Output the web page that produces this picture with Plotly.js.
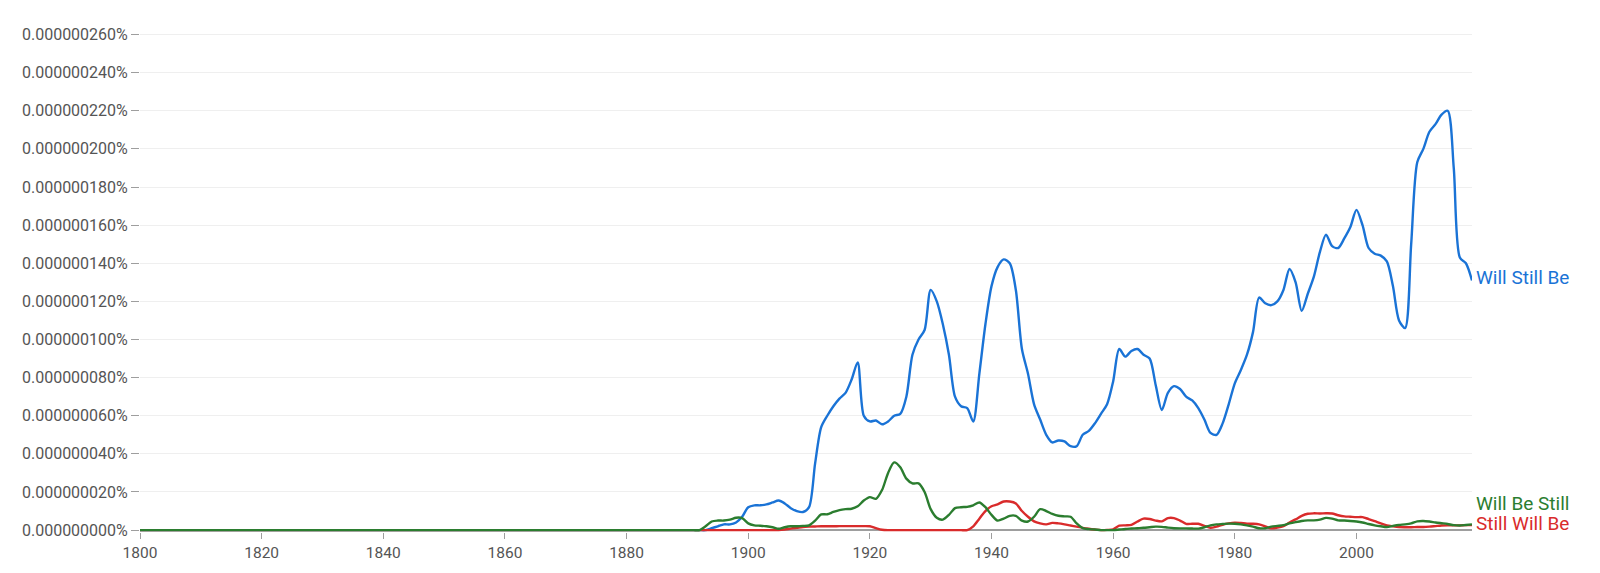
<!DOCTYPE html>
<html>
<head>
<meta charset="utf-8">
<script src="https://cdn.plot.ly/plotly-3.0.1.min.js"></script>
<style>html,body{margin:0;padding:0;background:#fff;}#chart{width:1600px;height:573px;}</style>
</head>
<body>
<div id="chart"></div>
<script>
// Values are in units of 0.000000001 %
const startYear = 1800;
const endYear = 2019;

const willStillBeLate = { // 1893..2019
  start: 1893,
  values: [0,1,2,3,3,4,7,12,13,13,13.5,14.5,15.5,14,11.5,10,9.5,12,35,54,60,65,69,72,79,88,60,57,57.5,55.5,57,60,61,70,92,100,105,126,120,108,92,70,65,64,57,82,108,128,138,142,140,126,95,82,66,58,50,46,47,46.5,44,44,50,52,56,61,66,78,95,91,94,95,92,90,76,63,72,75.5,74,70,68,64,58,51,50,56,66,77,84,92,104,122,119,118,120,126,137,130,115,124,133,146,155,149,148,153,159,168,160,148,145,144,141,128,110,106,150,193,200,209,213,218,220,190,143,140,131]
};
const willBeStillLate = { // 1893..2019
  start: 1893,
  values: [2,4.5,5,5,5.5,6.5,6.3,3.5,2.5,2.3,2,1.5,0.7,1.5,2,2,2.2,2.5,5,8.2,8.3,9.5,10.5,11,11.2,12.5,15.5,17.3,16.4,21,30,35.5,33,27,24.5,24.5,20,11,6.5,5.5,8,11.5,12,12.2,13,14.5,12,8,5,6,7.5,7.5,5,4.5,7,11,10,8.5,7.5,7.2,7,3.5,1,0.5,0.3,0,0,0,0.3,0.6,0.8,1,1.2,1.5,1.8,1.7,1.3,1,0.9,0.9,0.8,0.8,1.5,2.5,3,3.2,3.4,3.3,3,2.5,1.8,1,1,1.8,2.2,2.6,3.5,4.2,4.8,5.1,5.1,5.5,6.4,6,5.1,5,4.8,4.5,4,3.2,2.5,2,1.6,2.2,2.7,3,3.5,4.6,4.8,4.5,4,3.6,3.2,2.6,2.4,2.7,3]
};
const stillWillBeLate = { // 1906..2019
  start: 1906,
  values: [0.3,0.8,1.2,1.6,1.8,1.9,2,2,2,2.1,2.1,2.1,2.1,2.1,2,1,0.2,0,0,0,0,0,0,0,0,0,0,0,0,0,0,2,6,10,12.5,13.5,15,15,14,10,7,4.6,3.5,3,3.8,3.5,3,2.4,1.8,1.2,0.7,0.3,0,0.1,0.4,2.3,2.5,2.7,4.5,6,5.8,5,4.6,6.3,6.3,5,3.3,3.3,3.3,2.2,1.2,1.8,2.8,3.5,3.9,3.7,3.4,3.3,3,2,0.9,1.3,2.1,4,5.6,7.5,8.6,8.8,8.7,8.8,8.7,7.8,7.2,7,6.8,6.8,5.8,4.7,3.5,2.5,2,1.6,1.5,1.5,1.6,1.6,1.8,2.1,2.4,2.5,2.5,2.5,2.6,2.6]
};

const seriesNames = ['Will Still Be', 'Still Will Be', 'Will Be Still'];
const seriesColors = ['#1a73d6', '#d92b2b', '#2b7d2f'];
const labelValues = [132.5, 3.3, 13.8];

const yTickVals = [0,20,40,60,80,100,120,140,160,180,200,220,240,260];
const yTickText = ['0.000000000%','0.000000020%','0.000000040%','0.000000060%','0.000000080%','0.000000100%','0.000000120%','0.000000140%','0.000000160%','0.000000180%','0.000000200%','0.000000220%','0.000000240%','0.000000260%'];
const xTickVals = [1800,1820,1840,1860,1880,1900,1920,1940,1960,1980,2000];

const years = [];
for (let y = startYear; y <= endYear; y++) years.push(y);

function fullSeries(part) {
  return years.map(y => (y < part.start ? 0 : part.values[y - part.start]));
}
const seriesData = [fullSeries(willStillBeLate), fullSeries(stillWillBeLate), fullSeries(willBeStillLate)];

const traces = seriesData.map((vals, i) => ({
  x: years, y: vals, type: 'scatter', mode: 'lines', name: seriesNames[i],
  line: {color: seriesColors[i], width: 2.4, shape: 'spline', smoothing: 0.8},
  hoverinfo: 'skip'
}));

const annotations = seriesNames.map((n, i) => ({
  x: endYear, y: labelValues[i], xref: 'x', yref: 'y', text: n, showarrow: false,
  xanchor: 'left', yanchor: 'middle', xshift: 2,
  font: {family: 'Roboto', size: 19, color: seriesColors[i]}
}));

const layout = {
  width: 1600, height: 573,
  margin: {l: 140, r: 128, t: 25, b: 41},
  paper_bgcolor: '#fff', plot_bgcolor: '#fff',
  showlegend: false,
  font: {family: 'Roboto', size: 15, color: '#555555'},
  xaxis: {
    range: [startYear, endYear], tickvals: xTickVals, ticktext: xTickVals.map(String),
    showgrid: false, zeroline: false, showline: false,
    layer: 'below traces',
    ticks: 'outside', ticklen: 6, tickcolor: '#9e9e9e', tickwidth: 1,
    tickfont: {family: 'Roboto', size: 15.5, color: '#555555'}
  },
  yaxis: {
    range: [-1, 265], tickvals: yTickVals, ticktext: yTickText,
    showgrid: true, gridcolor: '#efefef', gridwidth: 1,
    zeroline: true, zerolinecolor: '#9e9e9e', zerolinewidth: 1.5, showline: false,
    layer: 'below traces',
    ticks: 'outside', ticklen: 8, tickcolor: '#9e9e9e', tickwidth: 1,
    tickfont: {family: 'Roboto', size: 16, color: '#555555'}
  },
  annotations: annotations
};

Plotly.newPlot('chart', traces, layout, {staticPlot: true, displayModeBar: false});
</script>
</body>
</html>
